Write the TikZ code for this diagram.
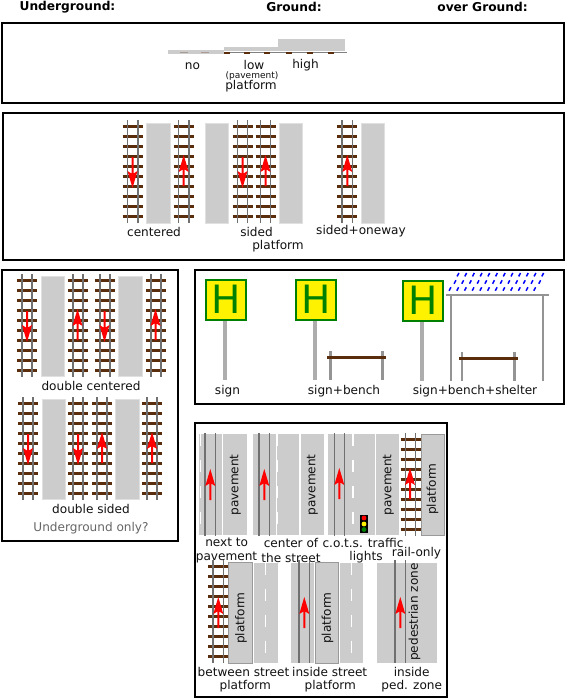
\documentclass[tikz,border=0pt]{standalone}
\usepackage{fontspec}
\setmainfont{DejaVu Sans}
\definecolor{plat}{HTML}{CCCCCC}
\definecolor{rail}{HTML}{707070}
\definecolor{sleeper}{HTML}{5A2D0C}
\definecolor{txt}{HTML}{111111}
\tikzset{
  panel/.style={draw=black,line width=2pt,fill=white},
  platbox/.style={fill=plat,draw=plat!60!white,line width=0.6pt},
  platedge/.style={fill=plat,draw=plat!75!black,line width=1pt},
  railline/.style={draw=rail,line width=1.5pt},
  sleeperline/.style={draw=sleeper,line width=2.5pt},
  dashline/.style={draw=white,line width=1.3pt,dash pattern=on 12pt off 14pt},
  lbl/.style={font=\fontsize{12.1}{13}\selectfont,text=txt,inner sep=0pt},
  head/.style={font=\fontsize{12.2}{13}\selectfont\bfseries,text=black,inner sep=0pt},
  signbox/.style={fill=yellow,draw=green!50!black,line width=2pt},
  pole/.style={draw=black!32,line width=3.8pt},
  benchpost/.style={draw=black!42,line width=2.6pt},
  seat/.style={draw=sleeper,line width=2.6pt},
  roofbar/.style={draw=black!42,line width=2.8pt},
}
\newcommand{\RailPair}[3]{\draw[railline] (#1-5.2,#2) -- (#1-5.2,#3) (#1+5.2,#2) -- (#1+5.2,#3);}
\newcommand{\TrackAt}[2]{%
  \foreach \i in {0,...,9}{\draw[sleeperline] (#1-10,#2+6.7+10*\i) -- (#1+10,#2+6.7+10*\i);}%
  \RailPair{#1}{#2}{#2+103}}
\newcommand{\UpArrow}[2]{\fill[red] (#1,#2) -- (#1+5,#2+17) -- (#1+1,#2+14.5) -- (#1+1,#2+31) -- (#1-1,#2+31) -- (#1-1,#2+14.5) -- (#1-5,#2+17) -- cycle;}
\newcommand{\DownArrow}[2]{\fill[red] (#1,#2+31) -- (#1+5,#2+14) -- (#1+1,#2+16.5) -- (#1+1,#2) -- (#1-1,#2) -- (#1-1,#2+16.5) -- (#1-5,#2+14) -- cycle;}
\newcommand{\Plat}[3]{\draw[platbox] (#1,#3) rectangle (#2,#3+100);}
\newcommand{\HSign}[4]{%
  \draw[pole] (#1+20.3,#2+40) -- (#1+20.3,#3);
  \node[signbox,minimum width=39.5pt,minimum height=39.5pt,inner sep=0pt,anchor=north west,text=green!50!black,font=\fontsize{39}{40}\selectfont] (#4) at (#1,#2) {H};}
\newcommand{\Bench}[4]{%
  \draw[benchpost] (#1,#3) -- (#1,#4) (#2,#3) -- (#2,#4);
  \draw[seat] (#1-3,#3+6.5) -- (#2+3,#3+6.5);}
\begin{document}
\begin{tikzpicture}[x=1pt,y=-1pt]
\useasboundingbox (0,0) rectangle (565,699);
\fill[white] (0,0) rectangle (565,699);
\node[head] (hunder) at (67.5,7) {Underground:};
\node[head] (hground) at (294,7) {Ground:};
\node[head] (hover) at (482.5,7) {over Ground:};
\draw[panel] (2,23) rectangle (564,103);
\draw[panel] (3,113) rectangle (564,260);
\draw[panel] (2,270) rectangle (178,541);
\draw[panel] (194.5,270) rectangle (564,404);
\draw[panel] (194.5,423) rectangle (447,697);
% panel 1
\fill[plat] (168,50) rectangle (224,54);
\fill[plat] (224,47.3) rectangle (278,51);
\fill[plat] (278,39) rectangle (345,51);
\draw[draw=black!50,line width=1pt] (224,52) -- (347,52);
\foreach \x in {227,246.7,267,288.7,310,331}{\draw[draw=sleeper,line width=2pt] (\x-3,52.5) -- (\x+3,52.5);}
\foreach \x in {184,205}{\draw[draw=sleeper!30!plat,line width=1pt] (\x-4,52) -- (\x+4,52);}
\node[lbl] (lno) at (192.5,66.5) {no};
\node[lbl] (llow) at (254,65) {low};
\node[lbl,font=\fontsize{9}{10}\selectfont] (lpave) at (252,75.6) {(pavement)};
\node[lbl] (lplat) at (251,86.6) {platform};
\node[lbl] (lhigh) at (305.5,65.5) {high};
% panel 2
\TrackAt{132.7}{120}\TrackAt{183.7}{120}\TrackAt{242.5}{120}\TrackAt{265.5}{120}\TrackAt{347.3}{120}
\Plat{146.7}{170}{123}\Plat{205}{228.7}{123}\Plat{279}{302}{123}\Plat{361}{384}{123}
\DownArrow{132.5}{157}\UpArrow{183.7}{155}\DownArrow{242.5}{157}\UpArrow{265.5}{155}\UpArrow{347.3}{155}
\node[lbl] (lcent) at (154,231.5) {centered};
\node[lbl] (lsided) at (256.5,231.5) {sided};
\node[lbl] (lplat2) at (278,246.5) {platform};
\node[lbl] (lone) at (361,231.5) {sided+oneway};
% panel 3
\TrackAt{27}{274}\TrackAt{78}{274}\TrackAt{105}{274}\TrackAt{156}{274}
\Plat{41}{64.5}{276}\Plat{118.5}{142}{276}
\DownArrow{27}{311}\UpArrow{77.5}{309}\DownArrow{104.5}{311}\UpArrow{155.5}{309}
\node[lbl] (ldc) at (91,385.5) {double centered};
\TrackAt{28}{397}\TrackAt{78}{397}\TrackAt{102}{397}\TrackAt{152}{397}
\Plat{42}{65}{399}\Plat{115}{139}{399}
\DownArrow{28}{434}\DownArrow{78}{434}\UpArrow{102}{432}\UpArrow{152}{432}
\node[lbl] (lds) at (91,508.5) {double sided};
\node[lbl,text=black!60] (lug) at (91,528.5) {Underground only?};
% panel 4
\HSign{205}{279}{380}{signa}
\HSign{295}{279}{380}{signb}
\Bench{330.3}{382.7}{351}{380}
\HSign{402}{280}{381}{signc}
\Bench{462}{514.5}{352}{381}
\draw[roofbar] (451,295) -- (451,381) (543,295) -- (543,381);
\draw[roofbar] (445.5,295) -- (549,295);
\foreach \yy/\xs in {274.7/458,282/455,289/450}{
  \foreach \k in {0,...,11}{
    \draw[blue,line width=1.5pt] (\xs+7.7*\k-0.9,\yy+1.7) -- (\xs+7.7*\k+0.9,\yy-1.7);
  }
}
\node[lbl] (ls1) at (227.5,391.5) {sign};
\node[lbl] (ls2) at (344,391.5) {sign+bench};
\node[lbl] (ls3) at (475,391.5) {sign+bench+shelter};
% panel 5 row 1
\fill[plat] (199,434) rectangle (222.3,535);
\draw[dashline] (200.7,434) -- (200.7,535);
\fill[plat] (223.3,434) rectangle (246.7,535);
\RailPair{210.4}{433}{536}
\UpArrow{210.3}{469}
\node[lbl,rotate=90] (p1) at (235.5,485) {pavement};
\fill[plat] (252.7,434) rectangle (276,535);
\fill[plat] (277,434) rectangle (299.3,535);
\draw[dashline] (277.5,434) -- (277.5,535);
\fill[plat] (300.7,434) rectangle (324,535);
\RailPair{264.2}{433}{536}
\UpArrow{264.3}{469}
\node[lbl,rotate=90] (p2) at (312.5,485) {pavement};
\fill[plat] (328.3,434) rectangle (351.7,535);
\fill[plat] (352.3,434) rectangle (375,535);
\draw[dashline] (353,434) -- (353,535);
\fill[plat] (376,434) rectangle (399,535);
\RailPair{339.5}{433}{536}
\UpArrow{339.3}{468}
\node[lbl,rotate=90] (p3) at (388.5,485) {pavement};
\fill[black] (360,515) rectangle (368,533);
\fill[red] (364,518) circle (2.4);
\fill[yellow] (364,524) circle (2.4);
\fill[green!50!black] (364,529.5) circle (2.4);
\TrackAt{410.5}{433}
\draw[platedge] (421,434) rectangle (444.5,535);
\UpArrow{410}{468}
\node[lbl,rotate=90] (p4) at (432.5,489) {platform};
\node[lbl] (a1) at (226.7,542.5) {next to};
\node[lbl] (a2) at (226.5,557.5) {pavement};
\node[lbl] (b1) at (291,542.5) {center of};
\node[lbl] (b2) at (291,557.5) {the street};
\node[lbl] (c1) at (363,542.5) {c.o.t.s. traffic};
\node[lbl] (c2) at (366,557.5) {lights};
\node[lbl] (d1) at (416.5,553.5) {rail-only};
% panel 5 row 2
\TrackAt{218.3}{560}
\draw[platedge] (228.7,562.5) rectangle (252.5,663);
\fill[plat] (254,562.5) rectangle (277.7,663);
\draw[dashline] (265.7,562.5) -- (265.7,663);
\UpArrow{218.3}{597}
\node[lbl,rotate=90] (p5) at (241,618) {platform};
\fill[plat] (290.7,562.5) rectangle (314,663);
\RailPair{304.2}{560}{663}
\draw[platedge] (315.2,562.5) rectangle (338.7,663);
\fill[plat] (340,562.5) rectangle (363.3,663);
\draw[dashline] (351.7,562.5) -- (351.7,663);
\UpArrow{304.3}{597}
\node[lbl,rotate=90] (p6) at (327.5,618) {platform};
\fill[plat] (377,562.5) rectangle (436.7,663);
\RailPair{400.3}{560}{663}
\UpArrow{400.3}{597}
\node[lbl,rotate=90] (p7) at (414.5,612) {pedestrian zone};
\node[lbl] (e1) at (243.5,671.5) {between street};
\node[lbl] (e2) at (245.3,686.5) {platform};
\node[lbl] (f1) at (329.7,671.5) {inside street};
\node[lbl] (f2) at (330.3,686.5) {platform};
\node[lbl] (g1) at (411.7,671.5) {inside};
\node[lbl] (g2) at (411.7,686.5) {ped. zone};
\end{tikzpicture}
\end{document}
